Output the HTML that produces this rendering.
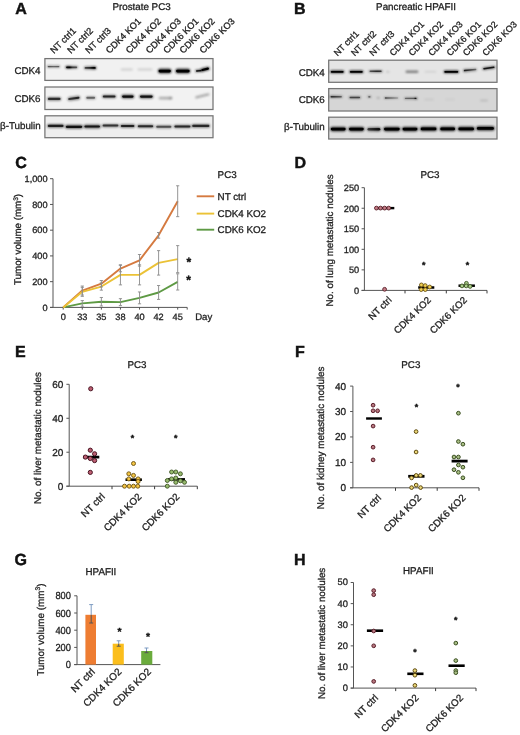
<!DOCTYPE html>
<html><head><meta charset="utf-8"><title>Figure</title>
<style>
html,body{margin:0;padding:0;background:#fff;}
body{width:520px;height:735px;overflow:hidden;}
svg{display:block;font-family:'Liberation Sans', Arial, sans-serif;text-rendering:geometricPrecision;}
text{stroke:#1e1e1e;stroke-width:0.3px;}
</style></head>
<body>
<svg width="520" height="735" viewBox="0 0 520 735">
<rect width="520" height="735" fill="#fff"/>
<text x="15.30" y="14.20" font-size="16" text-anchor="start" font-weight="bold" fill="#111" style="stroke:#111;stroke-width:0.45px">A</text>
<text x="294.00" y="14.20" font-size="16" text-anchor="start" font-weight="bold" fill="#111" style="stroke:#111;stroke-width:0.45px">B</text>
<text x="15.30" y="168.00" font-size="16" text-anchor="start" font-weight="bold" fill="#111" style="stroke:#111;stroke-width:0.45px">C</text>
<text x="294.60" y="168.20" font-size="16" text-anchor="start" font-weight="bold" fill="#111" style="stroke:#111;stroke-width:0.45px">D</text>
<text x="15.10" y="356.90" font-size="16" text-anchor="start" font-weight="bold" fill="#111" style="stroke:#111;stroke-width:0.45px">E</text>
<text x="295.10" y="356.90" font-size="16" text-anchor="start" font-weight="bold" fill="#111" style="stroke:#111;stroke-width:0.45px">F</text>
<text x="14.50" y="565.00" font-size="16" text-anchor="start" font-weight="bold" fill="#111" style="stroke:#111;stroke-width:0.45px">G</text>
<text x="294.00" y="564.70" font-size="16" text-anchor="start" font-weight="bold" fill="#111" style="stroke:#111;stroke-width:0.45px">H</text>
<defs><filter id="b1" filterUnits="userSpaceOnUse" x="0" y="0" width="520" height="735"><feGaussianBlur stdDeviation="0.85"/></filter><filter id="b2" filterUnits="userSpaceOnUse" x="0" y="0" width="520" height="735"><feGaussianBlur stdDeviation="1.1"/></filter></defs>
<text x="112.40" y="10.20" font-size="9.8" text-anchor="start" fill="#1e1e1e">Prostate PC3</text>
<text x="54.00" y="54.00" font-size="9.2" text-anchor="start" fill="#1e1e1e" transform="rotate(-45 54.00 54.00)">NT ctrl1</text>
<text x="71.00" y="54.00" font-size="9.2" text-anchor="start" fill="#1e1e1e" transform="rotate(-45 71.00 54.00)">NT ctrl2</text>
<text x="89.10" y="54.00" font-size="9.2" text-anchor="start" fill="#1e1e1e" transform="rotate(-45 89.10 54.00)">NT ctrl3</text>
<text x="109.50" y="54.00" font-size="9.2" text-anchor="start" fill="#1e1e1e" transform="rotate(-45 109.50 54.00)">CDK4 KO1</text>
<text x="129.50" y="54.00" font-size="9.2" text-anchor="start" fill="#1e1e1e" transform="rotate(-45 129.50 54.00)">CDK4 KO2</text>
<text x="149.50" y="54.00" font-size="9.2" text-anchor="start" fill="#1e1e1e" transform="rotate(-45 149.50 54.00)">CDK4 KO3</text>
<text x="167.00" y="54.00" font-size="9.2" text-anchor="start" fill="#1e1e1e" transform="rotate(-45 167.00 54.00)">CDK6 KO1</text>
<text x="183.30" y="54.00" font-size="9.2" text-anchor="start" fill="#1e1e1e" transform="rotate(-45 183.30 54.00)">CDK6 KO2</text>
<text x="203.30" y="54.00" font-size="9.2" text-anchor="start" fill="#1e1e1e" transform="rotate(-45 203.30 54.00)">CDK6 KO3</text>
<rect x="44.90" y="58.60" width="168.10" height="21.80" fill="#f1f1f1" stroke="#747474" stroke-width="1.25"/>
<rect x="44.90" y="87.00" width="168.10" height="22.50" fill="#f2f2f2" stroke="#747474" stroke-width="1.25"/>
<rect x="44.90" y="115.80" width="168.10" height="21.90" fill="#eeeeee" stroke="#747474" stroke-width="1.25"/>
<text x="14.40" y="74.20" font-size="9.8" text-anchor="start" fill="#1e1e1e">CDK4</text>
<text x="14.40" y="102.00" font-size="9.8" text-anchor="start" fill="#1e1e1e">CDK6</text>
<text x="0.00" y="129.10" font-size="9.8" text-anchor="start" fill="#1e1e1e">β-Tubulin</text>
<linearGradient id="g1" x1="0" y1="0" x2="1" y2="0"><stop offset="0" stop-color="#000" stop-opacity="0.41"/><stop offset="0.5" stop-color="#000" stop-opacity="0.33"/><stop offset="1" stop-color="#000" stop-opacity="0.37"/></linearGradient>
<rect x="46.90" y="65.35" width="13.30" height="2.50" rx="1.25" fill="url(#g1)" filter="url(#b1)"/>
<linearGradient id="g2" x1="0" y1="0" x2="1" y2="0"><stop offset="0" stop-color="#000" stop-opacity="0.55"/><stop offset="0.5" stop-color="#000" stop-opacity="0.44"/><stop offset="1" stop-color="#000" stop-opacity="0.50"/></linearGradient>
<rect x="47.70" y="65.88" width="11.70" height="1.45" rx="0.72" fill="url(#g2)"/>
<linearGradient id="g3" x1="0" y1="0" x2="1" y2="0"><stop offset="0" stop-color="#000" stop-opacity="0.68"/><stop offset="0.3" stop-color="#000" stop-opacity="0.75"/><stop offset="0.55" stop-color="#000" stop-opacity="0.45"/><stop offset="1" stop-color="#000" stop-opacity="0.38"/></linearGradient>
<rect x="65.30" y="65.85" width="12.70" height="2.90" rx="1.45" fill="url(#g3)" filter="url(#b1)"/>
<linearGradient id="g4" x1="0" y1="0" x2="1" y2="0"><stop offset="0" stop-color="#000" stop-opacity="0.90"/><stop offset="0.3" stop-color="#000" stop-opacity="1.00"/><stop offset="0.55" stop-color="#000" stop-opacity="0.60"/><stop offset="1" stop-color="#000" stop-opacity="0.50"/></linearGradient>
<rect x="66.10" y="66.46" width="11.10" height="1.68" rx="0.84" fill="url(#g4)"/>
<linearGradient id="g5" x1="0" y1="0" x2="1" y2="0"><stop offset="0" stop-color="#000" stop-opacity="0.41"/><stop offset="0.5" stop-color="#000" stop-opacity="0.52"/><stop offset="0.8" stop-color="#000" stop-opacity="0.75"/><stop offset="1" stop-color="#000" stop-opacity="0.75"/></linearGradient>
<rect x="83.80" y="66.35" width="12.70" height="3.10" rx="1.55" fill="url(#g5)" filter="url(#b1)"/>
<linearGradient id="g6" x1="0" y1="0" x2="1" y2="0"><stop offset="0" stop-color="#000" stop-opacity="0.55"/><stop offset="0.5" stop-color="#000" stop-opacity="0.70"/><stop offset="0.8" stop-color="#000" stop-opacity="1.00"/><stop offset="1" stop-color="#000" stop-opacity="1.00"/></linearGradient>
<rect x="84.60" y="67.00" width="11.10" height="1.80" rx="0.90" fill="url(#g6)"/>
<rect x="120.70" y="68.50" width="12.10" height="2.00" rx="1.00" fill="#000" fill-opacity="0.15" filter="url(#b1)"/>
<rect x="137.50" y="68.50" width="14.90" height="2.00" rx="1.00" fill="#000" fill-opacity="0.15" filter="url(#b1)"/>
<rect x="157.80" y="68.60" width="13.80" height="5.00" rx="2.50" fill="#000" fill-opacity="0.75" filter="url(#b1)"/>
<rect x="158.60" y="69.65" width="12.20" height="2.90" rx="1.45" fill="#000" fill-opacity="1.00"/>
<rect x="175.30" y="68.60" width="15.10" height="5.00" rx="2.50" fill="#000" fill-opacity="0.75" filter="url(#b1)"/>
<rect x="176.10" y="69.65" width="13.50" height="2.90" rx="1.45" fill="#000" fill-opacity="1.00"/>
<rect x="195.20" y="69.60" width="7.30" height="2.40" rx="1.20" fill="#000" fill-opacity="0.68" filter="url(#b1)" transform="rotate(-6 198.85 70.80)"/>
<rect x="196.00" y="70.10" width="5.70" height="1.39" rx="0.70" fill="#000" fill-opacity="0.90" transform="rotate(-6 198.85 70.80)"/>
<rect x="200.50" y="67.50" width="9.30" height="3.60" rx="1.80" fill="#000" fill-opacity="0.75" filter="url(#b1)" transform="rotate(-14 205.15 69.30)"/>
<rect x="201.30" y="68.26" width="7.70" height="2.09" rx="1.04" fill="#000" fill-opacity="1.00" transform="rotate(-14 205.15 69.30)"/>
<rect x="47.10" y="97.10" width="14.20" height="3.60" rx="1.80" fill="#000" fill-opacity="0.49" filter="url(#b1)"/>
<rect x="47.90" y="97.86" width="12.60" height="2.09" rx="1.04" fill="#000" fill-opacity="0.66"/>
<linearGradient id="g7" x1="0" y1="0" x2="1" y2="0"><stop offset="0" stop-color="#000" stop-opacity="0.45"/><stop offset="1" stop-color="#000" stop-opacity="0.56"/></linearGradient>
<rect x="67.40" y="96.60" width="12.90" height="3.60" rx="1.80" fill="url(#g7)" filter="url(#b1)" transform="rotate(-8 73.85 98.40)"/>
<linearGradient id="g8" x1="0" y1="0" x2="1" y2="0"><stop offset="0" stop-color="#000" stop-opacity="0.60"/><stop offset="1" stop-color="#000" stop-opacity="0.75"/></linearGradient>
<rect x="68.20" y="97.36" width="11.30" height="2.09" rx="1.04" fill="url(#g8)" transform="rotate(-8 73.85 98.40)"/>
<rect x="85.50" y="96.20" width="10.40" height="3.20" rx="1.60" fill="#000" fill-opacity="0.33" filter="url(#b1)"/>
<rect x="86.30" y="96.87" width="8.80" height="1.86" rx="0.93" fill="#000" fill-opacity="0.44"/>
<rect x="102.00" y="94.70" width="14.30" height="3.60" rx="1.80" fill="#000" fill-opacity="0.52" filter="url(#b1)"/>
<rect x="102.80" y="95.46" width="12.70" height="2.09" rx="1.04" fill="#000" fill-opacity="0.70"/>
<rect x="121.30" y="94.60" width="13.00" height="4.00" rx="2.00" fill="#000" fill-opacity="0.66" filter="url(#b1)"/>
<rect x="122.10" y="95.44" width="11.40" height="2.32" rx="1.16" fill="#000" fill-opacity="0.88"/>
<rect x="139.20" y="94.70" width="14.20" height="3.80" rx="1.90" fill="#000" fill-opacity="0.63" filter="url(#b1)"/>
<rect x="140.00" y="95.50" width="12.60" height="2.20" rx="1.10" fill="#000" fill-opacity="0.84"/>
<linearGradient id="g9" x1="0" y1="0" x2="1" y2="0"><stop offset="0" stop-color="#000" stop-opacity="0.26"/><stop offset="0.7" stop-color="#000" stop-opacity="0.29"/><stop offset="0.9" stop-color="#000" stop-opacity="0.45"/><stop offset="1" stop-color="#000" stop-opacity="0.32"/></linearGradient>
<rect x="158.60" y="96.80" width="13.80" height="2.60" rx="1.30" fill="url(#g9)" filter="url(#b1)"/>
<rect x="195.00" y="94.70" width="14.60" height="2.40" rx="1.20" fill="#000" fill-opacity="0.32" filter="url(#b1)" transform="rotate(-14 202.30 95.90)"/>
<rect x="47.00" y="124.10" width="17.30" height="3.60" rx="1.80" fill="#000" fill-opacity="0.56" filter="url(#b1)"/>
<rect x="47.80" y="124.86" width="15.70" height="2.09" rx="1.04" fill="#000" fill-opacity="0.75"/>
<rect x="65.00" y="124.80" width="18.00" height="4.00" rx="2.00" fill="#000" fill-opacity="0.63" filter="url(#b1)"/>
<rect x="65.80" y="125.64" width="16.40" height="2.32" rx="1.16" fill="#000" fill-opacity="0.84"/>
<rect x="83.60" y="124.60" width="17.20" height="3.80" rx="1.90" fill="#000" fill-opacity="0.59" filter="url(#b1)"/>
<rect x="84.40" y="125.40" width="15.60" height="2.20" rx="1.10" fill="#000" fill-opacity="0.79"/>
<rect x="101.80" y="123.90" width="17.40" height="3.40" rx="1.70" fill="#000" fill-opacity="0.48" filter="url(#b1)"/>
<rect x="102.60" y="124.61" width="15.80" height="1.97" rx="0.99" fill="#000" fill-opacity="0.63"/>
<rect x="120.00" y="124.20" width="15.20" height="3.60" rx="1.80" fill="#000" fill-opacity="0.56" filter="url(#b1)"/>
<rect x="120.80" y="124.96" width="13.60" height="2.09" rx="1.04" fill="#000" fill-opacity="0.75"/>
<rect x="137.00" y="124.50" width="17.00" height="3.60" rx="1.80" fill="#000" fill-opacity="0.51" filter="url(#b1)"/>
<rect x="137.80" y="125.26" width="15.40" height="2.09" rx="1.04" fill="#000" fill-opacity="0.69"/>
<rect x="155.40" y="125.00" width="16.80" height="3.40" rx="1.70" fill="#000" fill-opacity="0.38" filter="url(#b1)"/>
<rect x="156.20" y="125.71" width="15.20" height="1.97" rx="0.99" fill="#000" fill-opacity="0.51"/>
<rect x="173.60" y="124.70" width="17.60" height="3.60" rx="1.80" fill="#000" fill-opacity="0.51" filter="url(#b1)"/>
<rect x="174.40" y="125.46" width="16.00" height="2.09" rx="1.04" fill="#000" fill-opacity="0.69"/>
<rect x="191.40" y="124.10" width="18.80" height="3.60" rx="1.80" fill="#000" fill-opacity="0.51" filter="url(#b1)"/>
<rect x="192.20" y="124.86" width="17.20" height="2.09" rx="1.04" fill="#000" fill-opacity="0.69"/>
<text x="376.10" y="10.30" font-size="9.8" text-anchor="start" fill="#1e1e1e">Pancreatic HPAFII</text>
<text x="337.40" y="56.50" font-size="9.0" text-anchor="start" fill="#1e1e1e" transform="rotate(-45 337.40 56.50)">NT ctrl1</text>
<text x="354.70" y="56.50" font-size="9.0" text-anchor="start" fill="#1e1e1e" transform="rotate(-45 354.70 56.50)">NT ctrl2</text>
<text x="373.00" y="56.50" font-size="9.0" text-anchor="start" fill="#1e1e1e" transform="rotate(-45 373.00 56.50)">NT ctrl3</text>
<text x="393.20" y="56.50" font-size="9.0" text-anchor="start" fill="#1e1e1e" transform="rotate(-45 393.20 56.50)">CDK4 KO1</text>
<text x="412.20" y="56.50" font-size="9.0" text-anchor="start" fill="#1e1e1e" transform="rotate(-45 412.20 56.50)">CDK4 KO2</text>
<text x="431.90" y="56.50" font-size="9.0" text-anchor="start" fill="#1e1e1e" transform="rotate(-45 431.90 56.50)">CDK4 KO3</text>
<text x="450.30" y="56.50" font-size="9.0" text-anchor="start" fill="#1e1e1e" transform="rotate(-45 450.30 56.50)">CDK6 KO1</text>
<text x="466.50" y="56.50" font-size="9.0" text-anchor="start" fill="#1e1e1e" transform="rotate(-45 466.50 56.50)">CDK6 KO2</text>
<text x="486.10" y="56.50" font-size="9.0" text-anchor="start" fill="#1e1e1e" transform="rotate(-45 486.10 56.50)">CDK6 KO3</text>
<rect x="328.70" y="60.20" width="168.30" height="22.10" fill="#e5e5e5" stroke="#747474" stroke-width="1.25"/>
<rect x="328.70" y="88.60" width="168.30" height="22.40" fill="#d6d6d6" stroke="#747474" stroke-width="1.25"/>
<rect x="328.70" y="117.20" width="168.30" height="21.80" fill="#dedede" stroke="#747474" stroke-width="1.25"/>
<text x="298.70" y="75.90" font-size="9.8" text-anchor="start" fill="#1e1e1e">CDK4</text>
<text x="298.70" y="103.20" font-size="9.8" text-anchor="start" fill="#1e1e1e">CDK6</text>
<text x="284.00" y="130.00" font-size="9.8" text-anchor="start" fill="#1e1e1e">β-Tubulin</text>
<rect x="330.00" y="70.30" width="14.40" height="3.00" rx="1.50" fill="#000" fill-opacity="0.75" filter="url(#b1)"/>
<rect x="330.80" y="70.93" width="12.80" height="1.74" rx="0.87" fill="#000" fill-opacity="1.00"/>
<rect x="349.10" y="70.30" width="14.40" height="3.00" rx="1.50" fill="#000" fill-opacity="0.75" filter="url(#b1)"/>
<rect x="349.90" y="70.93" width="12.80" height="1.74" rx="0.87" fill="#000" fill-opacity="1.00"/>
<linearGradient id="g10" x1="0" y1="0" x2="1" y2="0"><stop offset="0" stop-color="#000" stop-opacity="0.37"/><stop offset="0.6" stop-color="#000" stop-opacity="0.52"/><stop offset="1" stop-color="#000" stop-opacity="0.47"/></linearGradient>
<rect x="368.70" y="70.00" width="13.80" height="2.60" rx="1.30" fill="url(#g10)" filter="url(#b1)"/>
<linearGradient id="g11" x1="0" y1="0" x2="1" y2="0"><stop offset="0" stop-color="#000" stop-opacity="0.49"/><stop offset="0.6" stop-color="#000" stop-opacity="0.70"/><stop offset="1" stop-color="#000" stop-opacity="0.63"/></linearGradient>
<rect x="369.50" y="70.55" width="12.20" height="1.51" rx="0.75" fill="url(#g11)"/>
<rect x="386.00" y="70.90" width="3.60" height="1.80" rx="0.90" fill="#000" fill-opacity="0.15" filter="url(#b1)"/>
<rect x="405.50" y="70.60" width="12.90" height="2.40" rx="1.20" fill="#000" fill-opacity="0.45" filter="url(#b1)"/>
<rect x="424.40" y="71.00" width="12.10" height="1.60" rx="0.80" fill="#000" fill-opacity="0.10" filter="url(#b1)"/>
<rect x="443.50" y="70.30" width="15.50" height="3.00" rx="1.50" fill="#000" fill-opacity="0.75" filter="url(#b1)"/>
<rect x="444.30" y="70.93" width="13.90" height="1.74" rx="0.87" fill="#000" fill-opacity="1.00"/>
<linearGradient id="g12" x1="0" y1="0" x2="1" y2="0"><stop offset="0" stop-color="#000" stop-opacity="0.60"/><stop offset="0.5" stop-color="#000" stop-opacity="0.45"/><stop offset="1" stop-color="#000" stop-opacity="0.30"/></linearGradient>
<rect x="463.00" y="68.80" width="14.20" height="2.60" rx="1.30" fill="url(#g12)" filter="url(#b1)" transform="rotate(-5 470.10 70.10)"/>
<linearGradient id="g13" x1="0" y1="0" x2="1" y2="0"><stop offset="0" stop-color="#000" stop-opacity="0.80"/><stop offset="0.5" stop-color="#000" stop-opacity="0.60"/><stop offset="1" stop-color="#000" stop-opacity="0.40"/></linearGradient>
<rect x="463.80" y="69.35" width="12.60" height="1.51" rx="0.75" fill="url(#g13)" transform="rotate(-5 470.10 70.10)"/>
<rect x="482.40" y="66.70" width="13.00" height="2.60" rx="1.30" fill="#000" fill-opacity="0.64" filter="url(#b1)" transform="rotate(-8 488.90 68.00)"/>
<rect x="483.20" y="67.25" width="11.40" height="1.51" rx="0.75" fill="#000" fill-opacity="0.85" transform="rotate(-8 488.90 68.00)"/>
<linearGradient id="g14" x1="0" y1="0" x2="1" y2="0"><stop offset="0" stop-color="#000" stop-opacity="0.52"/><stop offset="0.5" stop-color="#000" stop-opacity="0.42"/><stop offset="1" stop-color="#000" stop-opacity="0.32"/></linearGradient>
<rect x="329.70" y="95.50" width="13.00" height="2.40" rx="1.20" fill="url(#g14)" filter="url(#b1)"/>
<linearGradient id="g15" x1="0" y1="0" x2="1" y2="0"><stop offset="0" stop-color="#000" stop-opacity="0.70"/><stop offset="0.5" stop-color="#000" stop-opacity="0.56"/><stop offset="1" stop-color="#000" stop-opacity="0.42"/></linearGradient>
<rect x="330.50" y="96.00" width="11.40" height="1.39" rx="0.70" fill="url(#g15)"/>
<rect x="348.80" y="96.30" width="12.10" height="2.40" rx="1.20" fill="#000" fill-opacity="0.41" filter="url(#b1)"/>
<rect x="349.60" y="96.80" width="10.50" height="1.39" rx="0.70" fill="#000" fill-opacity="0.55"/>
<rect x="367.40" y="95.80" width="3.90" height="2.00" rx="1.00" fill="#000" fill-opacity="0.38" filter="url(#b1)"/>
<rect x="368.20" y="96.22" width="2.30" height="1.16" rx="0.58" fill="#000" fill-opacity="0.50"/>
<rect x="376.40" y="96.90" width="3.60" height="1.80" rx="0.90" fill="#000" fill-opacity="0.20" filter="url(#b1)"/>
<linearGradient id="g16" x1="0" y1="0" x2="1" y2="0"><stop offset="0" stop-color="#000" stop-opacity="0.47"/><stop offset="0.2" stop-color="#000" stop-opacity="0.34"/><stop offset="1" stop-color="#000" stop-opacity="0.14"/></linearGradient>
<rect x="384.00" y="96.90" width="15.00" height="2.20" rx="1.10" fill="url(#g16)" filter="url(#b1)"/>
<linearGradient id="g17" x1="0" y1="0" x2="1" y2="0"><stop offset="0" stop-color="#000" stop-opacity="0.63"/><stop offset="0.2" stop-color="#000" stop-opacity="0.45"/><stop offset="1" stop-color="#000" stop-opacity="0.18"/></linearGradient>
<rect x="384.80" y="97.36" width="13.40" height="1.28" rx="0.64" fill="url(#g17)"/>
<linearGradient id="g18" x1="0" y1="0" x2="1" y2="0"><stop offset="0" stop-color="#000" stop-opacity="0.30"/><stop offset="0.75" stop-color="#000" stop-opacity="0.34"/><stop offset="0.92" stop-color="#000" stop-opacity="0.68"/><stop offset="1" stop-color="#000" stop-opacity="0.38"/></linearGradient>
<rect x="404.00" y="97.20" width="13.50" height="2.40" rx="1.20" fill="url(#g18)" filter="url(#b1)"/>
<linearGradient id="g19" x1="0" y1="0" x2="1" y2="0"><stop offset="0" stop-color="#000" stop-opacity="0.40"/><stop offset="0.75" stop-color="#000" stop-opacity="0.45"/><stop offset="0.92" stop-color="#000" stop-opacity="0.90"/><stop offset="1" stop-color="#000" stop-opacity="0.50"/></linearGradient>
<rect x="404.80" y="97.70" width="11.90" height="1.39" rx="0.70" fill="url(#g19)"/>
<rect x="424.00" y="98.70" width="10.00" height="1.60" rx="0.80" fill="#000" fill-opacity="0.08" filter="url(#b1)"/>
<rect x="445.00" y="98.70" width="10.00" height="1.60" rx="0.80" fill="#000" fill-opacity="0.06" filter="url(#b1)"/>
<rect x="480.00" y="99.60" width="8.00" height="1.80" rx="0.90" fill="#000" fill-opacity="0.12" filter="url(#b1)"/>
<rect x="330.00" y="126.65" width="16.40" height="4.90" rx="2.45" fill="#000" fill-opacity="0.75" filter="url(#b1)"/>
<rect x="330.80" y="127.68" width="14.80" height="2.84" rx="1.42" fill="#000" fill-opacity="1.00"/>
<rect x="348.20" y="126.65" width="16.30" height="4.90" rx="2.45" fill="#000" fill-opacity="0.75" filter="url(#b1)"/>
<rect x="349.00" y="127.68" width="14.70" height="2.84" rx="1.42" fill="#000" fill-opacity="1.00"/>
<rect x="383.20" y="126.65" width="17.30" height="4.90" rx="2.45" fill="#000" fill-opacity="0.75" filter="url(#b1)"/>
<rect x="384.00" y="127.68" width="15.70" height="2.84" rx="1.42" fill="#000" fill-opacity="1.00"/>
<rect x="401.80" y="126.65" width="16.40" height="4.90" rx="2.45" fill="#000" fill-opacity="0.75" filter="url(#b1)"/>
<rect x="402.60" y="127.68" width="14.80" height="2.84" rx="1.42" fill="#000" fill-opacity="1.00"/>
<rect x="419.90" y="126.55" width="17.30" height="4.70" rx="2.35" fill="#000" fill-opacity="0.75" filter="url(#b1)"/>
<rect x="420.70" y="127.54" width="15.70" height="2.73" rx="1.36" fill="#000" fill-opacity="1.00"/>
<rect x="439.50" y="126.55" width="16.30" height="4.70" rx="2.35" fill="#000" fill-opacity="0.75" filter="url(#b1)"/>
<rect x="440.30" y="127.54" width="14.70" height="2.73" rx="1.36" fill="#000" fill-opacity="1.00"/>
<rect x="457.60" y="126.45" width="17.20" height="4.90" rx="2.45" fill="#000" fill-opacity="0.75" filter="url(#b1)"/>
<rect x="458.40" y="127.48" width="15.60" height="2.84" rx="1.42" fill="#000" fill-opacity="1.00"/>
<rect x="476.10" y="125.95" width="18.60" height="4.90" rx="2.45" fill="#000" fill-opacity="0.75" filter="url(#b1)"/>
<rect x="476.90" y="126.98" width="17.00" height="2.84" rx="1.42" fill="#000" fill-opacity="1.00"/>
<linearGradient id="g20" x1="0" y1="0" x2="1" y2="0"><stop offset="0" stop-color="#000" stop-opacity="0.41"/><stop offset="0.5" stop-color="#000" stop-opacity="0.54"/><stop offset="1" stop-color="#000" stop-opacity="0.68"/></linearGradient>
<rect x="366.70" y="127.15" width="14.30" height="4.30" rx="2.15" fill="url(#g20)" filter="url(#b1)"/>
<linearGradient id="g21" x1="0" y1="0" x2="1" y2="0"><stop offset="0" stop-color="#000" stop-opacity="0.54"/><stop offset="0.5" stop-color="#000" stop-opacity="0.72"/><stop offset="1" stop-color="#000" stop-opacity="0.90"/></linearGradient>
<rect x="367.50" y="128.05" width="12.70" height="2.49" rx="1.25" fill="url(#g21)"/>
<line x1="53.00" y1="178.70" x2="53.00" y2="307.40" stroke="#555555" stroke-width="1"/>
<line x1="50.00" y1="307.40" x2="53.00" y2="307.40" stroke="#555555" stroke-width="1"/>
<text x="47.60" y="310.70" font-size="9.2" text-anchor="end" fill="#1e1e1e">0</text>
<line x1="50.00" y1="281.66" x2="53.00" y2="281.66" stroke="#555555" stroke-width="1"/>
<text x="47.60" y="284.96" font-size="9.2" text-anchor="end" fill="#1e1e1e">200</text>
<line x1="50.00" y1="255.92" x2="53.00" y2="255.92" stroke="#555555" stroke-width="1"/>
<text x="47.60" y="259.22" font-size="9.2" text-anchor="end" fill="#1e1e1e">400</text>
<line x1="50.00" y1="230.18" x2="53.00" y2="230.18" stroke="#555555" stroke-width="1"/>
<text x="47.60" y="233.48" font-size="9.2" text-anchor="end" fill="#1e1e1e">600</text>
<line x1="50.00" y1="204.44" x2="53.00" y2="204.44" stroke="#555555" stroke-width="1"/>
<text x="47.60" y="207.74" font-size="9.2" text-anchor="end" fill="#1e1e1e">800</text>
<line x1="50.00" y1="178.70" x2="53.00" y2="178.70" stroke="#555555" stroke-width="1"/>
<text x="47.60" y="182.00" font-size="9.2" text-anchor="end" fill="#1e1e1e">1,000</text>
<line x1="50.00" y1="307.40" x2="187.20" y2="307.40" stroke="#555555" stroke-width="1"/>
<line x1="63.20" y1="307.40" x2="63.20" y2="309.60" stroke="#555555" stroke-width="1"/>
<text x="63.20" y="319.50" font-size="9.2" text-anchor="middle" fill="#1e1e1e">0</text>
<line x1="82.28" y1="307.40" x2="82.28" y2="309.60" stroke="#555555" stroke-width="1"/>
<text x="82.28" y="319.50" font-size="9.2" text-anchor="middle" fill="#1e1e1e">33</text>
<line x1="101.36" y1="307.40" x2="101.36" y2="309.60" stroke="#555555" stroke-width="1"/>
<text x="101.36" y="319.50" font-size="9.2" text-anchor="middle" fill="#1e1e1e">35</text>
<line x1="120.44" y1="307.40" x2="120.44" y2="309.60" stroke="#555555" stroke-width="1"/>
<text x="120.44" y="319.50" font-size="9.2" text-anchor="middle" fill="#1e1e1e">38</text>
<line x1="139.52" y1="307.40" x2="139.52" y2="309.60" stroke="#555555" stroke-width="1"/>
<text x="139.52" y="319.50" font-size="9.2" text-anchor="middle" fill="#1e1e1e">40</text>
<line x1="158.60" y1="307.40" x2="158.60" y2="309.60" stroke="#555555" stroke-width="1"/>
<text x="158.60" y="319.50" font-size="9.2" text-anchor="middle" fill="#1e1e1e">42</text>
<line x1="177.68" y1="307.40" x2="177.68" y2="309.60" stroke="#555555" stroke-width="1"/>
<text x="177.68" y="319.50" font-size="9.2" text-anchor="middle" fill="#1e1e1e">45</text>
<line x1="187.20" y1="307.40" x2="187.20" y2="309.60" stroke="#555555" stroke-width="1"/>
<text x="195.20" y="319.50" font-size="9.6" text-anchor="start" fill="#1e1e1e">Day</text>
<text transform="translate(21.3 285.0) rotate(-90)" font-size="9.75" fill="#1e1e1e">Tumor volume (mm<tspan font-size="6.6" dy="-3.6">3</tspan><tspan dy="3.6">)</tspan></text>
<polyline points="63.20,307.40 82.28,303.41 101.36,301.74 120.44,302.12 139.52,297.88 158.60,292.47 177.68,281.92" fill="none" stroke="#5e9a44" stroke-width="1.9" stroke-linejoin="round"/>
<polyline points="63.20,307.40 82.28,290.54 101.36,283.72 120.44,268.53 139.52,260.30 158.60,235.33 177.68,201.22" fill="none" stroke="#d57a40" stroke-width="1.9" stroke-linejoin="round"/>
<polyline points="63.20,307.40 82.28,291.83 101.36,286.55 120.44,274.84 139.52,274.84 158.60,262.87 177.68,259.14" fill="none" stroke="#ebc236" stroke-width="1.9" stroke-linejoin="round"/>
<line x1="82.28" y1="286.04" x2="82.28" y2="295.04" stroke="#8a8a8a" stroke-width="0.9"/>
<line x1="80.68" y1="286.04" x2="83.88" y2="286.04" stroke="#8a8a8a" stroke-width="0.9"/>
<line x1="80.68" y1="295.04" x2="83.88" y2="295.04" stroke="#8a8a8a" stroke-width="0.9"/>
<line x1="101.36" y1="280.50" x2="101.36" y2="286.94" stroke="#8a8a8a" stroke-width="0.9"/>
<line x1="99.76" y1="280.50" x2="102.96" y2="280.50" stroke="#8a8a8a" stroke-width="0.9"/>
<line x1="99.76" y1="286.94" x2="102.96" y2="286.94" stroke="#8a8a8a" stroke-width="0.9"/>
<line x1="120.44" y1="265.32" x2="120.44" y2="271.75" stroke="#8a8a8a" stroke-width="0.9"/>
<line x1="118.84" y1="265.32" x2="122.04" y2="265.32" stroke="#8a8a8a" stroke-width="0.9"/>
<line x1="118.84" y1="271.75" x2="122.04" y2="271.75" stroke="#8a8a8a" stroke-width="0.9"/>
<line x1="139.52" y1="254.50" x2="139.52" y2="266.09" stroke="#8a8a8a" stroke-width="0.9"/>
<line x1="137.92" y1="254.50" x2="141.12" y2="254.50" stroke="#8a8a8a" stroke-width="0.9"/>
<line x1="137.92" y1="266.09" x2="141.12" y2="266.09" stroke="#8a8a8a" stroke-width="0.9"/>
<line x1="158.60" y1="232.50" x2="158.60" y2="238.16" stroke="#8a8a8a" stroke-width="0.9"/>
<line x1="157.00" y1="232.50" x2="160.20" y2="232.50" stroke="#8a8a8a" stroke-width="0.9"/>
<line x1="157.00" y1="238.16" x2="160.20" y2="238.16" stroke="#8a8a8a" stroke-width="0.9"/>
<line x1="177.68" y1="185.78" x2="177.68" y2="216.67" stroke="#8a8a8a" stroke-width="0.9"/>
<line x1="176.08" y1="185.78" x2="179.28" y2="185.78" stroke="#8a8a8a" stroke-width="0.9"/>
<line x1="176.08" y1="216.67" x2="179.28" y2="216.67" stroke="#8a8a8a" stroke-width="0.9"/>
<line x1="82.28" y1="287.32" x2="82.28" y2="296.33" stroke="#8a8a8a" stroke-width="0.9"/>
<line x1="80.68" y1="287.32" x2="83.88" y2="287.32" stroke="#8a8a8a" stroke-width="0.9"/>
<line x1="80.68" y1="296.33" x2="83.88" y2="296.33" stroke="#8a8a8a" stroke-width="0.9"/>
<line x1="101.36" y1="282.95" x2="101.36" y2="290.15" stroke="#8a8a8a" stroke-width="0.9"/>
<line x1="99.76" y1="282.95" x2="102.96" y2="282.95" stroke="#8a8a8a" stroke-width="0.9"/>
<line x1="99.76" y1="290.15" x2="102.96" y2="290.15" stroke="#8a8a8a" stroke-width="0.9"/>
<line x1="120.44" y1="264.80" x2="120.44" y2="284.88" stroke="#8a8a8a" stroke-width="0.9"/>
<line x1="118.84" y1="264.80" x2="122.04" y2="264.80" stroke="#8a8a8a" stroke-width="0.9"/>
<line x1="118.84" y1="284.88" x2="122.04" y2="284.88" stroke="#8a8a8a" stroke-width="0.9"/>
<line x1="139.52" y1="264.80" x2="139.52" y2="284.88" stroke="#8a8a8a" stroke-width="0.9"/>
<line x1="137.92" y1="264.80" x2="141.12" y2="264.80" stroke="#8a8a8a" stroke-width="0.9"/>
<line x1="137.92" y1="284.88" x2="141.12" y2="284.88" stroke="#8a8a8a" stroke-width="0.9"/>
<line x1="158.60" y1="250.64" x2="158.60" y2="275.10" stroke="#8a8a8a" stroke-width="0.9"/>
<line x1="157.00" y1="250.64" x2="160.20" y2="250.64" stroke="#8a8a8a" stroke-width="0.9"/>
<line x1="157.00" y1="275.10" x2="160.20" y2="275.10" stroke="#8a8a8a" stroke-width="0.9"/>
<line x1="177.68" y1="245.62" x2="177.68" y2="272.65" stroke="#8a8a8a" stroke-width="0.9"/>
<line x1="176.08" y1="245.62" x2="179.28" y2="245.62" stroke="#8a8a8a" stroke-width="0.9"/>
<line x1="176.08" y1="272.65" x2="179.28" y2="272.65" stroke="#8a8a8a" stroke-width="0.9"/>
<line x1="82.28" y1="300.58" x2="82.28" y2="306.24" stroke="#8a8a8a" stroke-width="0.9"/>
<line x1="80.68" y1="300.58" x2="83.88" y2="300.58" stroke="#8a8a8a" stroke-width="0.9"/>
<line x1="80.68" y1="306.24" x2="83.88" y2="306.24" stroke="#8a8a8a" stroke-width="0.9"/>
<line x1="101.36" y1="297.49" x2="101.36" y2="305.98" stroke="#8a8a8a" stroke-width="0.9"/>
<line x1="99.76" y1="297.49" x2="102.96" y2="297.49" stroke="#8a8a8a" stroke-width="0.9"/>
<line x1="99.76" y1="305.98" x2="102.96" y2="305.98" stroke="#8a8a8a" stroke-width="0.9"/>
<line x1="120.44" y1="298.65" x2="120.44" y2="305.60" stroke="#8a8a8a" stroke-width="0.9"/>
<line x1="118.84" y1="298.65" x2="122.04" y2="298.65" stroke="#8a8a8a" stroke-width="0.9"/>
<line x1="118.84" y1="305.60" x2="122.04" y2="305.60" stroke="#8a8a8a" stroke-width="0.9"/>
<line x1="139.52" y1="291.96" x2="139.52" y2="303.80" stroke="#8a8a8a" stroke-width="0.9"/>
<line x1="137.92" y1="291.96" x2="141.12" y2="291.96" stroke="#8a8a8a" stroke-width="0.9"/>
<line x1="137.92" y1="303.80" x2="141.12" y2="303.80" stroke="#8a8a8a" stroke-width="0.9"/>
<line x1="158.60" y1="285.52" x2="158.60" y2="299.42" stroke="#8a8a8a" stroke-width="0.9"/>
<line x1="157.00" y1="285.52" x2="160.20" y2="285.52" stroke="#8a8a8a" stroke-width="0.9"/>
<line x1="157.00" y1="299.42" x2="160.20" y2="299.42" stroke="#8a8a8a" stroke-width="0.9"/>
<line x1="177.68" y1="273.81" x2="177.68" y2="290.03" stroke="#8a8a8a" stroke-width="0.9"/>
<line x1="176.08" y1="273.81" x2="179.28" y2="273.81" stroke="#8a8a8a" stroke-width="0.9"/>
<line x1="176.08" y1="290.03" x2="179.28" y2="290.03" stroke="#8a8a8a" stroke-width="0.9"/>
<text x="188.80" y="266.04" font-size="12.04" font-weight="bold" text-anchor="middle" fill="#111" style="stroke:#111;stroke-width:0.35px">*</text>
<text x="188.60" y="283.74" font-size="12.04" font-weight="bold" text-anchor="middle" fill="#111" style="stroke:#111;stroke-width:0.35px">*</text>
<text x="217.60" y="177.50" font-size="9.8" text-anchor="start" fill="#1e1e1e">PC3</text>
<line x1="196.70" y1="196.30" x2="214.20" y2="196.30" stroke="#d57a40" stroke-width="1.9"/>
<text x="217.60" y="199.90" font-size="9.8" text-anchor="start" fill="#1e1e1e">NT ctrl</text>
<line x1="196.70" y1="213.60" x2="214.20" y2="213.60" stroke="#ebc236" stroke-width="1.9"/>
<text x="217.60" y="217.20" font-size="9.8" text-anchor="start" fill="#1e1e1e">CDK4 KO2</text>
<line x1="196.70" y1="229.70" x2="214.20" y2="229.70" stroke="#5e9a44" stroke-width="1.9"/>
<text x="217.60" y="233.30" font-size="9.8" text-anchor="start" fill="#1e1e1e">CDK6 KO2</text>
<line x1="364.40" y1="187.70" x2="364.40" y2="290.40" stroke="#555555" stroke-width="1"/>
<line x1="361.60" y1="290.40" x2="364.40" y2="290.40" stroke="#555555" stroke-width="1"/>
<text x="359.20" y="293.70" font-size="9.2" text-anchor="end" fill="#1e1e1e">0</text>
<line x1="361.60" y1="269.86" x2="364.40" y2="269.86" stroke="#555555" stroke-width="1"/>
<text x="359.20" y="273.16" font-size="9.2" text-anchor="end" fill="#1e1e1e">50</text>
<line x1="361.60" y1="249.32" x2="364.40" y2="249.32" stroke="#555555" stroke-width="1"/>
<text x="359.20" y="252.62" font-size="9.2" text-anchor="end" fill="#1e1e1e">100</text>
<line x1="361.60" y1="228.78" x2="364.40" y2="228.78" stroke="#555555" stroke-width="1"/>
<text x="359.20" y="232.08" font-size="9.2" text-anchor="end" fill="#1e1e1e">150</text>
<line x1="361.60" y1="208.24" x2="364.40" y2="208.24" stroke="#555555" stroke-width="1"/>
<text x="359.20" y="211.54" font-size="9.2" text-anchor="end" fill="#1e1e1e">200</text>
<line x1="361.60" y1="187.70" x2="364.40" y2="187.70" stroke="#555555" stroke-width="1"/>
<text x="359.20" y="191.00" font-size="9.2" text-anchor="end" fill="#1e1e1e">250</text>
<line x1="361.60" y1="290.40" x2="487.00" y2="290.40" stroke="#555555" stroke-width="1"/>
<line x1="405.00" y1="290.40" x2="405.00" y2="293.40" stroke="#3a3a3a" stroke-width="1.0"/>
<line x1="446.30" y1="290.40" x2="446.30" y2="293.40" stroke="#3a3a3a" stroke-width="1.0"/>
<line x1="487.00" y1="290.40" x2="487.00" y2="293.40" stroke="#3a3a3a" stroke-width="1.0"/>
<text x="420.50" y="177.50" font-size="9.8" text-anchor="start" fill="#1e1e1e">PC3</text>
<text transform="translate(332.50 306.60) rotate(-90)" font-size="9.84" fill="#1e1e1e">No. of lung metastatic nodules</text>
<rect x="376.00" y="206.90" width="18.30" height="2.4" fill="#000"/>
<circle cx="376.40" cy="208.10" r="1.9" fill="#c27c86" stroke="#5a1e28" stroke-width="0.9"/>
<circle cx="380.50" cy="208.10" r="1.9" fill="#c27c86" stroke="#5a1e28" stroke-width="0.9"/>
<circle cx="384.60" cy="208.10" r="1.9" fill="#c27c86" stroke="#5a1e28" stroke-width="0.9"/>
<circle cx="388.70" cy="208.10" r="1.9" fill="#c27c86" stroke="#5a1e28" stroke-width="0.9"/>
<circle cx="384.60" cy="289.30" r="1.9" fill="#c27c86" stroke="#5a1e28" stroke-width="0.9"/>
<rect x="418.20" y="286.25" width="16.10" height="2.5" fill="#000"/>
<circle cx="425.20" cy="285.60" r="1.9" fill="#f0cf52" stroke="#6b5212" stroke-width="0.9"/>
<circle cx="421.40" cy="284.90" r="1.9" fill="#f0cf52" stroke="#6b5212" stroke-width="0.9"/>
<circle cx="429.70" cy="287.00" r="1.9" fill="#f0cf52" stroke="#6b5212" stroke-width="0.9"/>
<circle cx="421.20" cy="289.60" r="1.9" fill="#f0cf52" stroke="#6b5212" stroke-width="0.9"/>
<circle cx="425.30" cy="289.60" r="1.9" fill="#f0cf52" stroke="#6b5212" stroke-width="0.9"/>
<rect x="458.50" y="284.45" width="16.40" height="2.5" fill="#000"/>
<circle cx="466.40" cy="283.30" r="1.9" fill="#a8cc88" stroke="#3d5424" stroke-width="0.9"/>
<circle cx="462.00" cy="285.90" r="1.9" fill="#a8cc88" stroke="#3d5424" stroke-width="0.9"/>
<circle cx="466.20" cy="285.90" r="1.9" fill="#a8cc88" stroke="#3d5424" stroke-width="0.9"/>
<circle cx="470.10" cy="286.40" r="1.9" fill="#a8cc88" stroke="#3d5424" stroke-width="0.9"/>
<text x="423.80" y="268.00" font-size="8.81" font-weight="bold" text-anchor="middle" fill="#111" style="stroke:#111;stroke-width:0.35px">*</text>
<text x="467.40" y="268.00" font-size="8.81" font-weight="bold" text-anchor="middle" fill="#111" style="stroke:#111;stroke-width:0.35px">*</text>
<text x="392.30" y="300.60" font-size="9.65" text-anchor="end" fill="#1e1e1e" transform="rotate(-45 392.30 300.60)">NT ctrl</text>
<text x="431.50" y="300.60" font-size="9.65" text-anchor="end" fill="#1e1e1e" transform="rotate(-45 431.50 300.60)">CDK4 KO2</text>
<text x="467.50" y="300.60" font-size="9.65" text-anchor="end" fill="#1e1e1e" transform="rotate(-45 467.50 300.60)">CDK6 KO2</text>
<line x1="69.20" y1="384.30" x2="69.20" y2="486.20" stroke="#555555" stroke-width="1"/>
<line x1="66.40" y1="486.20" x2="69.20" y2="486.20" stroke="#555555" stroke-width="1"/>
<text x="63.30" y="489.60" font-size="10.0" text-anchor="end" fill="#1e1e1e">0</text>
<line x1="66.40" y1="452.23" x2="69.20" y2="452.23" stroke="#555555" stroke-width="1"/>
<text x="63.30" y="455.63" font-size="10.0" text-anchor="end" fill="#1e1e1e">20</text>
<line x1="66.40" y1="418.27" x2="69.20" y2="418.27" stroke="#555555" stroke-width="1"/>
<text x="63.30" y="421.67" font-size="10.0" text-anchor="end" fill="#1e1e1e">40</text>
<line x1="66.40" y1="384.30" x2="69.20" y2="384.30" stroke="#555555" stroke-width="1"/>
<text x="63.30" y="387.70" font-size="10.0" text-anchor="end" fill="#1e1e1e">60</text>
<line x1="66.40" y1="486.20" x2="197.30" y2="486.20" stroke="#555555" stroke-width="1"/>
<line x1="112.00" y1="486.20" x2="112.00" y2="489.20" stroke="#3a3a3a" stroke-width="1.0"/>
<line x1="154.60" y1="486.20" x2="154.60" y2="489.20" stroke="#3a3a3a" stroke-width="1.0"/>
<line x1="197.30" y1="486.20" x2="197.30" y2="489.20" stroke="#3a3a3a" stroke-width="1.0"/>
<text x="127.50" y="367.50" font-size="9.8" text-anchor="start" fill="#1e1e1e">PC3</text>
<text transform="translate(40.90 504.00) rotate(-90)" font-size="9.85" fill="#1e1e1e">No. of liver metastatic nodules</text>
<rect x="83.40" y="455.75" width="15.90" height="2.7" fill="#000"/>
<circle cx="90.75" cy="388.75" r="2.1" fill="#bd5f72" stroke="#4a1422" stroke-width="1.0"/>
<circle cx="90.30" cy="450.20" r="2.1" fill="#bd5f72" stroke="#4a1422" stroke-width="1.0"/>
<circle cx="94.60" cy="453.80" r="2.1" fill="#bd5f72" stroke="#4a1422" stroke-width="1.0"/>
<circle cx="85.40" cy="457.10" r="2.1" fill="#bd5f72" stroke="#4a1422" stroke-width="1.0"/>
<circle cx="90.30" cy="458.50" r="2.1" fill="#bd5f72" stroke="#4a1422" stroke-width="1.0"/>
<circle cx="94.60" cy="460.60" r="2.1" fill="#bd5f72" stroke="#4a1422" stroke-width="1.0"/>
<circle cx="90.30" cy="472.40" r="2.1" fill="#bd5f72" stroke="#4a1422" stroke-width="1.0"/>
<rect x="125.50" y="478.40" width="16.40" height="2.6" fill="#000"/>
<circle cx="133.50" cy="463.50" r="2.0" fill="#f3c443" stroke="#6b5212" stroke-width="0.9"/>
<circle cx="128.80" cy="473.80" r="2.0" fill="#f3c443" stroke="#6b5212" stroke-width="0.9"/>
<circle cx="133.50" cy="475.40" r="2.0" fill="#f3c443" stroke="#6b5212" stroke-width="0.9"/>
<circle cx="128.80" cy="478.90" r="2.0" fill="#f3c443" stroke="#6b5212" stroke-width="0.9"/>
<circle cx="138.10" cy="478.90" r="2.0" fill="#f3c443" stroke="#6b5212" stroke-width="0.9"/>
<circle cx="138.10" cy="481.50" r="2.0" fill="#f3c443" stroke="#6b5212" stroke-width="0.9"/>
<circle cx="124.50" cy="486.20" r="2.0" fill="#f3c443" stroke="#6b5212" stroke-width="0.9"/>
<circle cx="129.20" cy="486.20" r="2.0" fill="#f3c443" stroke="#6b5212" stroke-width="0.9"/>
<circle cx="133.50" cy="486.20" r="2.0" fill="#f3c443" stroke="#6b5212" stroke-width="0.9"/>
<circle cx="137.80" cy="486.20" r="2.0" fill="#f3c443" stroke="#6b5212" stroke-width="0.9"/>
<rect x="168.00" y="478.10" width="17.00" height="2.6" fill="#000"/>
<circle cx="171.60" cy="472.00" r="2.0" fill="#97bb6e" stroke="#3d5424" stroke-width="0.9"/>
<circle cx="175.80" cy="472.00" r="2.0" fill="#97bb6e" stroke="#3d5424" stroke-width="0.9"/>
<circle cx="180.40" cy="473.80" r="2.0" fill="#97bb6e" stroke="#3d5424" stroke-width="0.9"/>
<circle cx="167.30" cy="480.50" r="2.0" fill="#97bb6e" stroke="#3d5424" stroke-width="0.9"/>
<circle cx="171.60" cy="478.90" r="2.0" fill="#97bb6e" stroke="#3d5424" stroke-width="0.9"/>
<circle cx="175.80" cy="478.00" r="2.0" fill="#97bb6e" stroke="#3d5424" stroke-width="0.9"/>
<circle cx="180.40" cy="480.80" r="2.0" fill="#97bb6e" stroke="#3d5424" stroke-width="0.9"/>
<circle cx="184.50" cy="482.30" r="2.0" fill="#97bb6e" stroke="#3d5424" stroke-width="0.9"/>
<circle cx="175.80" cy="482.30" r="2.0" fill="#97bb6e" stroke="#3d5424" stroke-width="0.9"/>
<circle cx="167.30" cy="486.20" r="2.0" fill="#97bb6e" stroke="#3d5424" stroke-width="0.9"/>
<text x="132.40" y="441.20" font-size="8.81" font-weight="bold" text-anchor="middle" fill="#111" style="stroke:#111;stroke-width:0.35px">*</text>
<text x="175.70" y="441.20" font-size="8.81" font-weight="bold" text-anchor="middle" fill="#111" style="stroke:#111;stroke-width:0.35px">*</text>
<text x="105.50" y="497.30" font-size="9.85" text-anchor="end" fill="#1e1e1e" transform="rotate(-45 105.50 497.30)">NT ctrl</text>
<text x="142.20" y="497.30" font-size="9.85" text-anchor="end" fill="#1e1e1e" transform="rotate(-45 142.20 497.30)">CDK4 KO2</text>
<text x="180.20" y="497.30" font-size="9.85" text-anchor="end" fill="#1e1e1e" transform="rotate(-45 180.20 497.30)">CDK6 KO2</text>
<line x1="352.90" y1="386.10" x2="352.90" y2="487.80" stroke="#555555" stroke-width="1"/>
<line x1="350.10" y1="487.80" x2="352.90" y2="487.80" stroke="#555555" stroke-width="1"/>
<text x="346.00" y="491.20" font-size="10.0" text-anchor="end" fill="#1e1e1e">0</text>
<line x1="350.10" y1="462.38" x2="352.90" y2="462.38" stroke="#555555" stroke-width="1"/>
<text x="346.00" y="465.77" font-size="10.0" text-anchor="end" fill="#1e1e1e">10</text>
<line x1="350.10" y1="436.95" x2="352.90" y2="436.95" stroke="#555555" stroke-width="1"/>
<text x="346.00" y="440.35" font-size="10.0" text-anchor="end" fill="#1e1e1e">20</text>
<line x1="350.10" y1="411.53" x2="352.90" y2="411.53" stroke="#555555" stroke-width="1"/>
<text x="346.00" y="414.93" font-size="10.0" text-anchor="end" fill="#1e1e1e">30</text>
<line x1="350.10" y1="386.10" x2="352.90" y2="386.10" stroke="#555555" stroke-width="1"/>
<text x="346.00" y="389.50" font-size="10.0" text-anchor="end" fill="#1e1e1e">40</text>
<line x1="350.10" y1="487.80" x2="479.00" y2="487.80" stroke="#555555" stroke-width="1"/>
<line x1="395.50" y1="487.80" x2="395.50" y2="490.80" stroke="#3a3a3a" stroke-width="1.0"/>
<line x1="437.20" y1="487.80" x2="437.20" y2="490.80" stroke="#3a3a3a" stroke-width="1.0"/>
<line x1="479.00" y1="487.80" x2="479.00" y2="490.80" stroke="#3a3a3a" stroke-width="1.0"/>
<text x="401.30" y="367.50" font-size="9.8" text-anchor="start" fill="#1e1e1e">PC3</text>
<text transform="translate(323.50 509.20) rotate(-90)" font-size="9.89" fill="#1e1e1e">No. of kidney metastatic nodules</text>
<rect x="366.10" y="417.30" width="15.80" height="2.4" fill="#000"/>
<circle cx="373.10" cy="405.20" r="1.85" fill="#b87880" stroke="#5a1e2a" stroke-width="1.0"/>
<circle cx="373.10" cy="410.80" r="1.85" fill="#b87880" stroke="#5a1e2a" stroke-width="1.0"/>
<circle cx="377.60" cy="410.80" r="1.85" fill="#b87880" stroke="#5a1e2a" stroke-width="1.0"/>
<circle cx="373.10" cy="426.10" r="1.85" fill="#b87880" stroke="#5a1e2a" stroke-width="1.0"/>
<circle cx="373.10" cy="447.20" r="1.85" fill="#b87880" stroke="#5a1e2a" stroke-width="1.0"/>
<circle cx="373.10" cy="459.90" r="1.85" fill="#b87880" stroke="#5a1e2a" stroke-width="1.0"/>
<rect x="408.20" y="474.90" width="16.30" height="2.8" fill="#000"/>
<circle cx="416.10" cy="431.60" r="1.85" fill="#ecd878" stroke="#5e4a10" stroke-width="1.0"/>
<circle cx="416.10" cy="452.00" r="1.85" fill="#ecd878" stroke="#5e4a10" stroke-width="1.0"/>
<circle cx="411.60" cy="477.90" r="1.85" fill="#ecd878" stroke="#5e4a10" stroke-width="1.0"/>
<circle cx="416.20" cy="475.40" r="1.85" fill="#ecd878" stroke="#5e4a10" stroke-width="1.0"/>
<circle cx="420.40" cy="475.40" r="1.85" fill="#ecd878" stroke="#5e4a10" stroke-width="1.0"/>
<circle cx="411.60" cy="487.60" r="1.85" fill="#ecd878" stroke="#5e4a10" stroke-width="1.0"/>
<circle cx="416.20" cy="485.10" r="1.85" fill="#ecd878" stroke="#5e4a10" stroke-width="1.0"/>
<circle cx="420.60" cy="487.60" r="1.85" fill="#ecd878" stroke="#5e4a10" stroke-width="1.0"/>
<rect x="451.60" y="459.70" width="16.00" height="2.8" fill="#000"/>
<circle cx="458.40" cy="413.20" r="1.85" fill="#a9bf85" stroke="#3a4e20" stroke-width="1.0"/>
<circle cx="458.40" cy="441.50" r="1.85" fill="#a9bf85" stroke="#3a4e20" stroke-width="1.0"/>
<circle cx="462.90" cy="444.20" r="1.85" fill="#a9bf85" stroke="#3a4e20" stroke-width="1.0"/>
<circle cx="454.00" cy="457.00" r="1.85" fill="#a9bf85" stroke="#3a4e20" stroke-width="1.0"/>
<circle cx="458.40" cy="457.00" r="1.85" fill="#a9bf85" stroke="#3a4e20" stroke-width="1.0"/>
<circle cx="458.40" cy="465.00" r="1.85" fill="#a9bf85" stroke="#3a4e20" stroke-width="1.0"/>
<circle cx="462.90" cy="467.20" r="1.85" fill="#a9bf85" stroke="#3a4e20" stroke-width="1.0"/>
<circle cx="454.00" cy="469.70" r="1.85" fill="#a9bf85" stroke="#3a4e20" stroke-width="1.0"/>
<circle cx="458.40" cy="472.30" r="1.85" fill="#a9bf85" stroke="#3a4e20" stroke-width="1.0"/>
<circle cx="462.90" cy="477.80" r="1.85" fill="#a9bf85" stroke="#3a4e20" stroke-width="1.0"/>
<text x="416.40" y="409.90" font-size="8.81" font-weight="bold" text-anchor="middle" fill="#111" style="stroke:#111;stroke-width:0.35px">*</text>
<text x="457.90" y="390.00" font-size="8.81" font-weight="bold" text-anchor="middle" fill="#111" style="stroke:#111;stroke-width:0.35px">*</text>
<text x="381.80" y="498.40" font-size="9.8" text-anchor="end" fill="#1e1e1e" transform="rotate(-45 381.80 498.40)">NT ctrl</text>
<text x="421.80" y="498.40" font-size="9.8" text-anchor="end" fill="#1e1e1e" transform="rotate(-45 421.80 498.40)">CDK4 KO2</text>
<text x="466.30" y="498.40" font-size="9.8" text-anchor="end" fill="#1e1e1e" transform="rotate(-45 466.30 498.40)">CDK6 KO2</text>
<line x1="77.00" y1="595.80" x2="77.00" y2="664.60" stroke="#555555" stroke-width="1"/>
<line x1="74.20" y1="664.60" x2="77.00" y2="664.60" stroke="#555555" stroke-width="1"/>
<text x="0" y="0" font-size="9.3" text-anchor="end" fill="#1e1e1e" transform="translate(70.90 668.20) scale(1 1.1)">0</text>
<line x1="74.20" y1="647.40" x2="77.00" y2="647.40" stroke="#555555" stroke-width="1"/>
<text x="0" y="0" font-size="9.3" text-anchor="end" fill="#1e1e1e" transform="translate(70.90 651.00) scale(1 1.1)">200</text>
<line x1="74.20" y1="630.20" x2="77.00" y2="630.20" stroke="#555555" stroke-width="1"/>
<text x="0" y="0" font-size="9.3" text-anchor="end" fill="#1e1e1e" transform="translate(70.90 633.80) scale(1 1.1)">400</text>
<line x1="74.20" y1="613.00" x2="77.00" y2="613.00" stroke="#555555" stroke-width="1"/>
<text x="0" y="0" font-size="9.3" text-anchor="end" fill="#1e1e1e" transform="translate(70.90 616.60) scale(1 1.1)">600</text>
<line x1="74.20" y1="595.80" x2="77.00" y2="595.80" stroke="#555555" stroke-width="1"/>
<text x="0" y="0" font-size="9.3" text-anchor="end" fill="#1e1e1e" transform="translate(70.90 599.40) scale(1 1.1)">800</text>
<line x1="74.20" y1="664.60" x2="160.40" y2="664.60" stroke="#555555" stroke-width="1"/>
<text x="85.50" y="574.50" font-size="9.8" text-anchor="start" fill="#1e1e1e">HPAFII</text>
<text transform="translate(43.6 675.8) rotate(-90)" font-size="9.9" fill="#1e1e1e">Tumor volume (mm<tspan font-size="6.7" dy="-3.6">3</tspan><tspan dy="3.6">)</tspan></text>
<rect x="85.4" y="614.8" width="10.60" height="49.80" fill="#ee7d32"/>
<rect x="112.7" y="643.7" width="11.10" height="20.90" fill="#fbbe1c"/>
<rect x="141.2" y="651.0" width="11.10" height="13.60" fill="#6aab3c"/>
<line x1="91.20" y1="604.60" x2="91.20" y2="614.80" stroke="#7d9bc2" stroke-width="1.0"/>
<line x1="91.20" y1="614.80" x2="91.20" y2="623.00" stroke="#555555" stroke-width="1.0"/>
<line x1="89.20" y1="604.60" x2="93.20" y2="604.60" stroke="#7d9bc2" stroke-width="1.0"/>
<line x1="89.20" y1="623.00" x2="93.20" y2="623.00" stroke="#555555" stroke-width="1.0"/>
<line x1="118.70" y1="640.80" x2="118.70" y2="643.70" stroke="#7d9bc2" stroke-width="1.0"/>
<line x1="118.70" y1="643.70" x2="118.70" y2="646.20" stroke="#555555" stroke-width="1.0"/>
<line x1="116.70" y1="640.80" x2="120.70" y2="640.80" stroke="#7d9bc2" stroke-width="1.0"/>
<line x1="116.70" y1="646.20" x2="120.70" y2="646.20" stroke="#555555" stroke-width="1.0"/>
<line x1="146.50" y1="648.00" x2="146.50" y2="651.00" stroke="#7d9bc2" stroke-width="1.0"/>
<line x1="146.50" y1="651.00" x2="146.50" y2="652.70" stroke="#555555" stroke-width="1.0"/>
<line x1="144.50" y1="648.00" x2="148.50" y2="648.00" stroke="#7d9bc2" stroke-width="1.0"/>
<line x1="144.50" y1="652.70" x2="148.50" y2="652.70" stroke="#555555" stroke-width="1.0"/>
<text x="119.60" y="635.46" font-size="10.32" font-weight="bold" text-anchor="middle" fill="#111" style="stroke:#111;stroke-width:0.35px">*</text>
<text x="147.90" y="639.86" font-size="10.32" font-weight="bold" text-anchor="middle" fill="#111" style="stroke:#111;stroke-width:0.35px">*</text>
<text x="95.70" y="672.30" font-size="10.0" text-anchor="end" fill="#1e1e1e" transform="rotate(-45 95.70 672.30)">NT ctrl</text>
<text x="122.20" y="672.30" font-size="10.0" text-anchor="end" fill="#1e1e1e" transform="rotate(-45 122.20 672.30)">CDK4 KO2</text>
<text x="151.70" y="672.30" font-size="10.0" text-anchor="end" fill="#1e1e1e" transform="rotate(-45 151.70 672.30)">CDK6 KO2</text>
<line x1="353.50" y1="582.50" x2="353.50" y2="688.10" stroke="#555555" stroke-width="1"/>
<line x1="350.70" y1="688.10" x2="353.50" y2="688.10" stroke="#555555" stroke-width="1"/>
<text x="347.90" y="691.00" font-size="9.3" text-anchor="end" fill="#1e1e1e">0</text>
<line x1="350.70" y1="666.98" x2="353.50" y2="666.98" stroke="#555555" stroke-width="1"/>
<text x="347.90" y="669.88" font-size="9.3" text-anchor="end" fill="#1e1e1e">10</text>
<line x1="350.70" y1="645.86" x2="353.50" y2="645.86" stroke="#555555" stroke-width="1"/>
<text x="347.90" y="648.76" font-size="9.3" text-anchor="end" fill="#1e1e1e">20</text>
<line x1="350.70" y1="624.74" x2="353.50" y2="624.74" stroke="#555555" stroke-width="1"/>
<text x="347.90" y="627.64" font-size="9.3" text-anchor="end" fill="#1e1e1e">30</text>
<line x1="350.70" y1="603.62" x2="353.50" y2="603.62" stroke="#555555" stroke-width="1"/>
<text x="347.90" y="606.52" font-size="9.3" text-anchor="end" fill="#1e1e1e">40</text>
<line x1="350.70" y1="582.50" x2="353.50" y2="582.50" stroke="#555555" stroke-width="1"/>
<text x="347.90" y="585.40" font-size="9.3" text-anchor="end" fill="#1e1e1e">50</text>
<line x1="350.70" y1="688.10" x2="476.00" y2="688.10" stroke="#555555" stroke-width="1"/>
<line x1="395.70" y1="688.10" x2="395.70" y2="691.10" stroke="#3a3a3a" stroke-width="1.0"/>
<line x1="435.60" y1="688.10" x2="435.60" y2="691.10" stroke="#3a3a3a" stroke-width="1.0"/>
<line x1="476.00" y1="688.10" x2="476.00" y2="691.10" stroke="#3a3a3a" stroke-width="1.0"/>
<text x="403.00" y="573.80" font-size="9.8" text-anchor="start" fill="#1e1e1e">HPAFII</text>
<text transform="translate(325.30 699.00) rotate(-90)" font-size="9.8" fill="#1e1e1e">No. of liver metastatic nodules</text>
<rect x="366.90" y="629.40" width="16.20" height="2.6" fill="#000"/>
<circle cx="373.70" cy="590.60" r="1.85" fill="#b87880" stroke="#5a1e2a" stroke-width="1.0"/>
<circle cx="373.70" cy="594.70" r="1.85" fill="#b87880" stroke="#5a1e2a" stroke-width="1.0"/>
<circle cx="373.70" cy="631.00" r="1.85" fill="#b87880" stroke="#5a1e2a" stroke-width="1.0"/>
<circle cx="373.70" cy="645.80" r="1.85" fill="#b87880" stroke="#5a1e2a" stroke-width="1.0"/>
<circle cx="373.70" cy="681.40" r="1.85" fill="#b87880" stroke="#5a1e2a" stroke-width="1.0"/>
<rect x="407.30" y="672.50" width="16.20" height="2.6" fill="#000"/>
<circle cx="414.90" cy="670.60" r="1.85" fill="#ecd878" stroke="#5e4a10" stroke-width="1.0"/>
<circle cx="414.90" cy="675.20" r="1.85" fill="#ecd878" stroke="#5e4a10" stroke-width="1.0"/>
<circle cx="414.90" cy="685.40" r="1.85" fill="#ecd878" stroke="#5e4a10" stroke-width="1.0"/>
<rect x="448.50" y="664.40" width="16.20" height="2.6" fill="#000"/>
<circle cx="455.80" cy="643.10" r="1.85" fill="#a9bf85" stroke="#3a4e20" stroke-width="1.0"/>
<circle cx="455.80" cy="660.60" r="1.85" fill="#a9bf85" stroke="#3a4e20" stroke-width="1.0"/>
<circle cx="455.80" cy="670.60" r="1.85" fill="#a9bf85" stroke="#3a4e20" stroke-width="1.0"/>
<circle cx="455.80" cy="672.70" r="1.85" fill="#a9bf85" stroke="#3a4e20" stroke-width="1.0"/>
<text x="414.90" y="654.90" font-size="8.81" font-weight="bold" text-anchor="middle" fill="#111" style="stroke:#111;stroke-width:0.35px">*</text>
<text x="455.80" y="623.10" font-size="8.81" font-weight="bold" text-anchor="middle" fill="#111" style="stroke:#111;stroke-width:0.35px">*</text>
<text x="378.80" y="698.40" font-size="9.8" text-anchor="end" fill="#1e1e1e" transform="rotate(-45 378.80 698.40)">NT ctrl</text>
<text x="419.30" y="698.40" font-size="9.8" text-anchor="end" fill="#1e1e1e" transform="rotate(-45 419.30 698.40)">CDK4 KO2</text>
<text x="463.80" y="698.40" font-size="9.8" text-anchor="end" fill="#1e1e1e" transform="rotate(-45 463.80 698.40)">CDK6 KO2</text>
</svg>
</body></html>
